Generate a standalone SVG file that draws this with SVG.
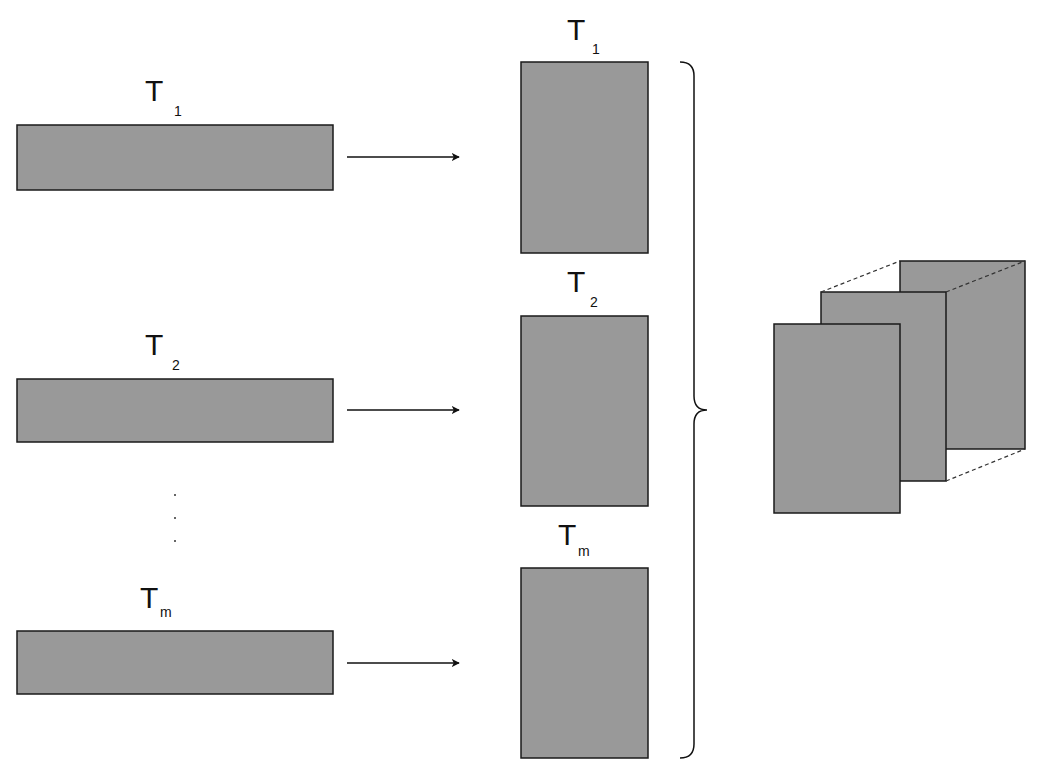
<svg xmlns="http://www.w3.org/2000/svg" width="1046" height="779" viewBox="0 0 1046 779">
<defs>
<style>
.b{fill:#999;stroke:#1a1a1a;stroke-width:1.5}
.t{font-family:"Liberation Sans",Arial,sans-serif;font-size:30px;fill:#111}
.s{font-family:"Liberation Sans",Arial,sans-serif;font-size:14px;fill:#111}
.c{stroke:#111;stroke-width:1.5;fill:none}
.d{stroke:#333;stroke-width:1.2;stroke-dasharray:4 3;fill:none}
</style>
<marker id="a" viewBox="0 0 10 10" refX="9" refY="5" markerWidth="8" markerHeight="8" markerUnits="userSpaceOnUse" orient="auto"><path d="M0,0L10,5L0,10L2.5,5z" fill="#111"/></marker>
</defs>
<rect width="1046" height="779" fill="#fff"/>
<g id="h1"><rect class="b" x="17" y="125" width="316" height="65"/><text class="t" x="145" y="101">T</text><text class="s" x="174" y="116">1</text></g>
<g id="h2"><rect class="b" x="17" y="379" width="316" height="63"/><text class="t" x="145" y="355">T</text><text class="s" x="172" y="370">2</text></g>
<g id="hm"><rect class="b" x="17" y="631" width="316" height="63"/><text class="t" x="140" y="608">T</text><text class="s" x="160" y="617" font-size="20">m</text></g>
<g id="dots" fill="#333"><circle cx="175" cy="495" r="1"/><circle cx="175" cy="518" r="1"/><circle cx="175" cy="541" r="1"/></g>
<g id="v1"><rect class="b" x="521" y="62" width="127" height="191"/><text class="t" x="567" y="40">T</text><text class="s" x="592" y="54">1</text></g>
<g id="v2"><rect class="b" x="521" y="316" width="127" height="190"/><text class="t" x="567" y="292">T</text><text class="s" x="590" y="307">2</text></g>
<g id="vm"><rect class="b" x="521" y="568" width="127" height="190"/><text class="t" x="558" y="545">T</text><text class="s" x="578" y="556" font-size="20">m</text></g>
<g id="stack">
<rect class="b" x="900" y="261" width="125" height="188"/>
<rect class="b" x="821" y="292" width="125" height="189"/>
<rect class="b" x="774" y="324" width="126" height="189"/>
<path class="d" d="M821,292L900,261M946,292L1025,261M946,481L1025,449"/>
</g>
<g id="connectors">
<path class="c" d="M347,157H459" marker-end="url(#a)"/>
<path class="c" d="M347,410H459" marker-end="url(#a)" stroke="#555"/>
<path class="c" d="M347,663H459" marker-end="url(#a)"/>
<path class="c" stroke-width="1.2" d="M680,62Q694,62 694,76V396Q694,410 707,410Q694,410 694,424V744Q694,758 680,758"/>
</g>
</svg>
